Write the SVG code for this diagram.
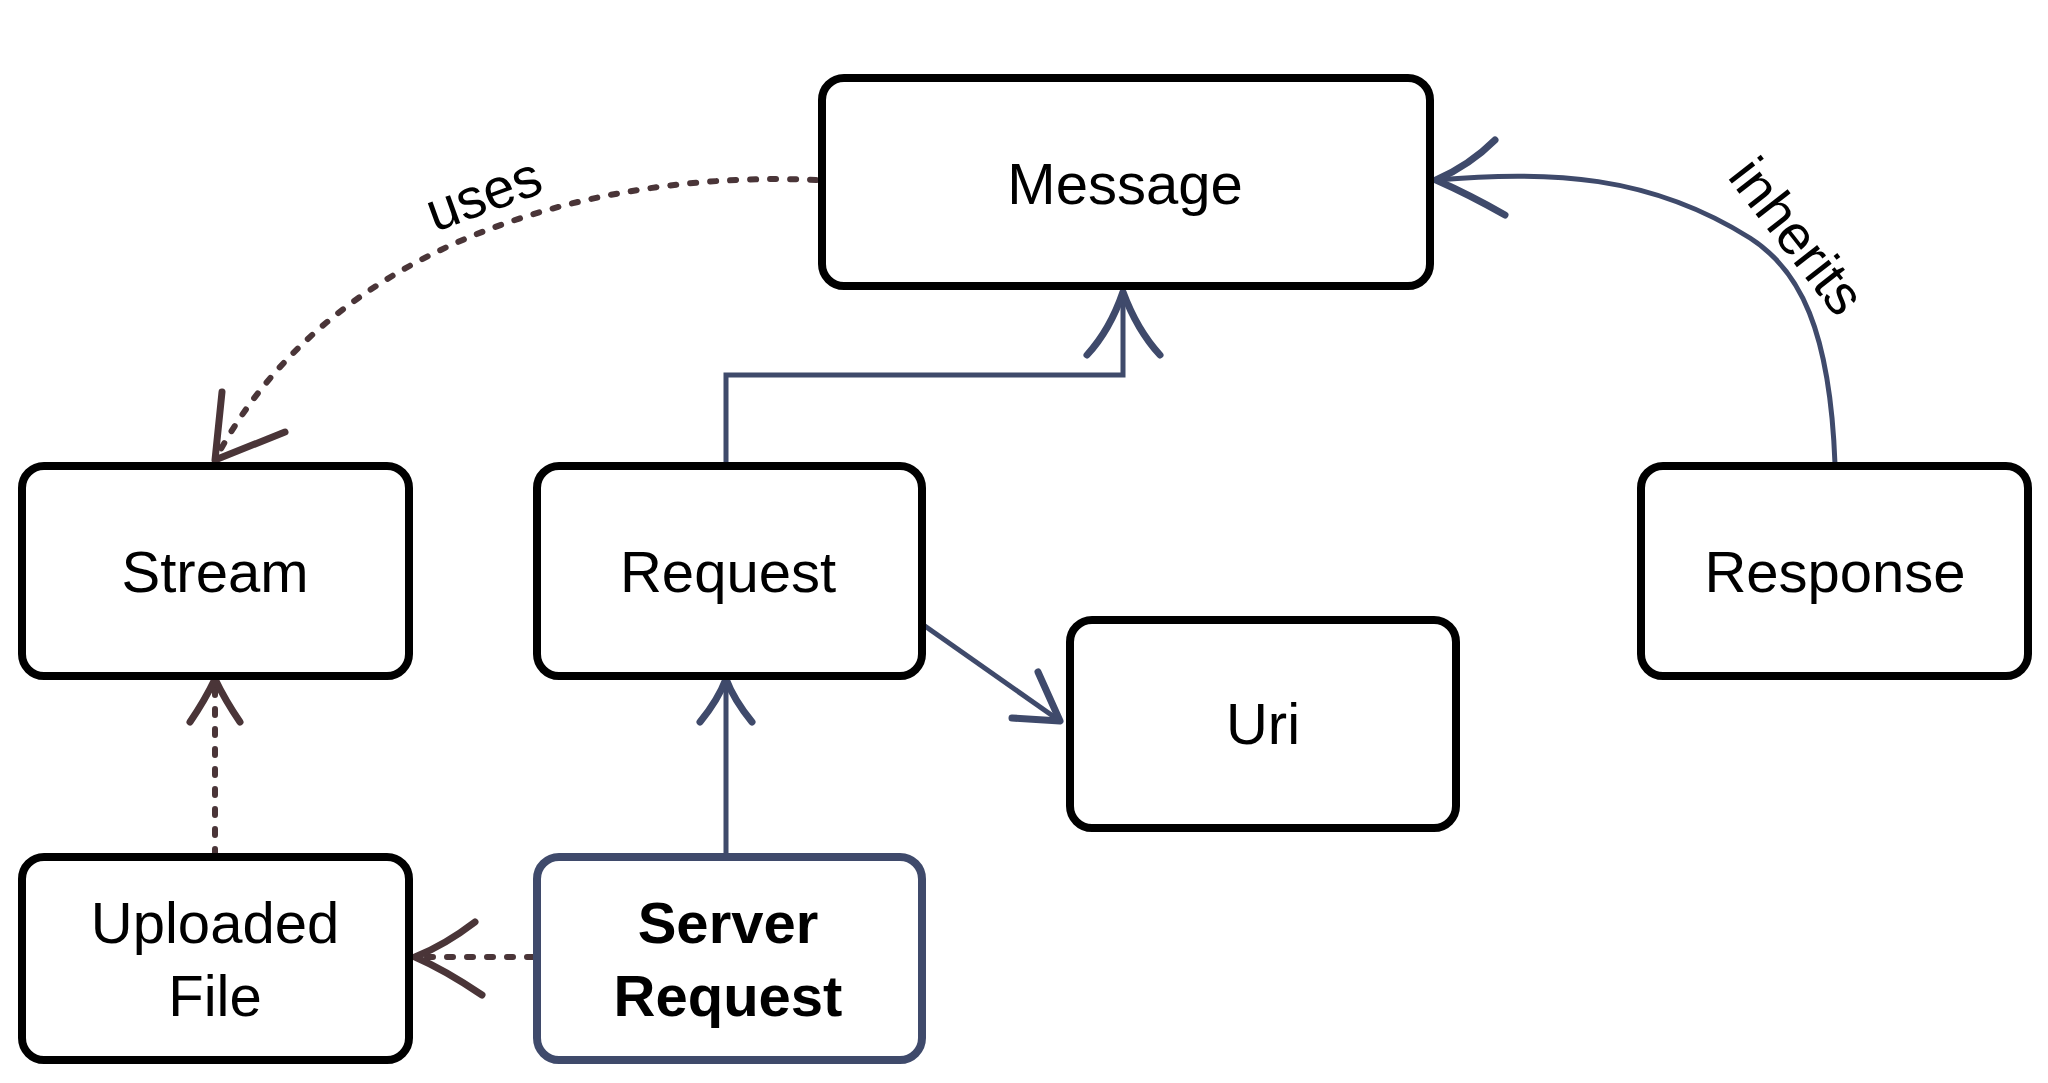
<svg xmlns="http://www.w3.org/2000/svg" width="2048" height="1083" viewBox="0 0 2048 1083">
<style>
.box{fill:#fff;stroke:#000;stroke-width:8}
.t{font-family:"Liberation Sans",Arial,sans-serif;font-size:58px;fill:#000;text-anchor:middle;dominant-baseline:central}
.b{font-weight:bold}
.d{fill:none;stroke:#4a3538;stroke-width:6;stroke-dasharray:6 14;stroke-linecap:round}
.s{fill:none;stroke:#3f4a6b;stroke-width:5}
.hd{fill:none;stroke:#4a3538;stroke-width:7;stroke-linecap:round;stroke-linejoin:round}
.hs{fill:none;stroke:#3f4a6b;stroke-width:7;stroke-linecap:round;stroke-linejoin:round}
.lbl{font-family:"Liberation Sans",Arial,sans-serif;font-size:56px;fill:#000;text-anchor:middle}
</style>
<rect width="2048" height="1083" fill="#fff"/>
<g id="connectors">
<path class="d" d="M816,180 C600,170 330,240 215,460"/>
<path class="hd" d="M222,392 L215,460 L285,432"/>
<text class="lbl" transform="translate(490,212) rotate(-20)">uses</text>
<path class="s" d="M726,464 V375 H1123 V292"/>
<path class="hs" d="M1087,355 Q1110,330 1123,292 Q1137,330 1160,355"/>
<path class="s" d="M1835,464 C1830,330 1800,270 1750,238 C1650,175 1550,170 1436,180"/>
<path class="hs" d="M1495,140 Q1470,165 1436,180 Q1470,195 1505,215"/>
<text class="lbl" transform="translate(1782,248) rotate(52)">inherits</text>
<path class="s" d="M922,624 L1060,721"/>
<path class="hs" d="M1038,672 L1060,721 L1012,718"/>
<path class="s" d="M726,855 V680"/>
<path class="hs" d="M700,722 Q718,700 726,679 Q734,700 752,722"/>
<path class="d" d="M215,855 V685"/>
<path class="hd" d="M190,722 Q205,700 215,679 Q225,700 240,722"/>
<path class="d" d="M533,957 H425"/>
<path class="hd" d="M475,922 Q445,945 415,957 Q445,970 482,995"/>
</g>
<g id="message"><rect class="box" x="822" y="78" width="608" height="208" rx="22"/><text class="t" x="1125" y="183">Message</text></g>
<g id="stream"><rect class="box" x="22" y="466" width="387" height="210" rx="22"/><text class="t" x="215" y="571">Stream</text></g>
<g id="request"><rect class="box" x="537" y="466" width="385" height="210" rx="22"/><text class="t" x="728" y="571">Request</text></g>
<g id="response"><rect class="box" x="1641" y="466" width="387" height="210" rx="22"/><text class="t" x="1835" y="571">Response</text></g>
<g id="uri"><rect class="box" x="1070" y="620" width="386" height="208" rx="22"/><text class="t" x="1263" y="723">Uri</text></g>
<g id="uploaded"><rect class="box" x="22" y="857" width="387" height="203" rx="22"/><text class="t" x="215" y="922">Uploaded</text><text class="t" x="215" y="995">File</text></g>
<g id="server"><rect class="box" x="537" y="857" width="385" height="203" rx="22" style="stroke:#3f4a6b"/><text class="t b" x="728" y="922">Server</text><text class="t b" x="728" y="995">Request</text></g>
</svg>
